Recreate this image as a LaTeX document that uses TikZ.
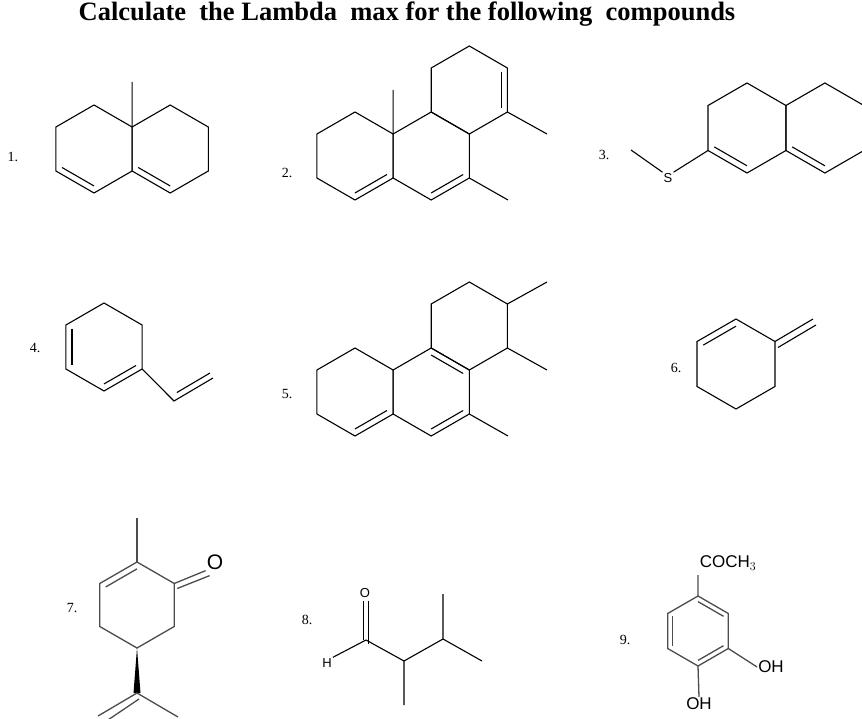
\documentclass[tikz,border=0pt]{standalone}
\usepackage{fontspec}
\setmainfont{Liberation Serif}
\newfontfamily\arialf{Liberation Sans}
\usetikzlibrary{calc}
\newcommand\hexa[4]{%
\coordinate (#1) at (#2,#3);
\coordinate (#1-t) at (#2,#3-#4);
\coordinate (#1-b) at (#2,#3+#4);
\coordinate (#1-ur) at (#2+0.866*#4,#3-0.5*#4);
\coordinate (#1-lr) at (#2+0.866*#4,#3+0.5*#4);
\coordinate (#1-ul) at (#2-0.866*#4,#3-0.5*#4);
\coordinate (#1-ll) at (#2-0.866*#4,#3+0.5*#4);}
\newcommand\ringdraw[2][]{\draw[bond,#1] (#2-t)--(#2-ur)--(#2-lr)--(#2-b)--(#2-ll)--(#2-ul)--cycle;}
\newcommand\dbl[4][]{\draw[bond,#1] ($(#2)!0.16!(#4)$) -- ($(#3)!0.16!(#4)$);}
\begin{document}
\begin{tikzpicture}[x=1pt,y=-1pt,
  bond/.style={line width=1.1pt,line join=miter},
  gbond/.style={line width=1.3pt,draw=black!70},
  num/.style={font=\fontsize{14}{14}\selectfont,inner sep=0pt},
  atom/.style={font=\arialf\fontsize{13}{13}\selectfont,inner sep=1pt}]
\fill[white] (0,0) rectangle (862,719);
\useasboundingbox (0,0) rectangle (862,719);
\clip (0,0) rectangle (862,719);
\node[font=\bfseries\fontsize{26.5}{26.5}\selectfont,inner sep=0pt] (title) at (407,14) {Calculate\ \ the Lambda\ \ max for the following\ \ compounds};
% labels
\node[num] (l1) at (13,157) {1.};
\node[num] (l2) at (287,173) {2.};
\node[num] (l3) at (604,155) {3.};
\node[num] (l4) at (35,348) {4.};
\node[num] (l5) at (287,394) {5.};
\node[num] (l6) at (676,368) {6.};
\node[num] (l7) at (72,608) {7.};
\node[num] (l8) at (307,620) {8.};
\node[num] (l9) at (625,640) {9.};
% 1
\hexa{a}{94}{149}{44}\hexa{b}{170.2}{149}{44}
\ringdraw{a}\ringdraw{b}
\coordinate (m1) at (132.1,82);
\draw[bond] (a-ur)--(m1);
\dbl{a-ll}{a-b}{a}\dbl{b-ll}{b-b}{b}
% 2
\hexa{c}{355}{156}{44}\hexa{d}{431.2}{156}{44}\hexa{e}{469.3}{90}{44}
\ringdraw{c}\ringdraw{d}\ringdraw{e}
\coordinate (m2a) at (393.1,90);\coordinate (m2b) at (547,134);\coordinate (m2c) at (508,200);
\draw[bond] (c-ur)--(m2a) (e-lr)--(m2b) (d-lr)--(m2c);
\dbl{e-ur}{e-lr}{e}\dbl{d-b}{d-lr}{d}\dbl{c-b}{c-lr}{c}
% 3
\hexa{f}{747}{128}{45}\hexa{g}{824.9}{128}{45}
\ringdraw{f}\ringdraw{g}
\node[atom] (S) at (668,178) {S};
\coordinate (m3) at (631,150);
\draw[bond] (f-ll)--(S.north east) (S.north west)--(m3);
\dbl{f-ll}{f-b}{f}\dbl{g-ll}{g-b}{g}
% 4
\hexa{h}{104}{347}{44}
\ringdraw{h}
\coordinate (v1) at (174,401);\coordinate (v2) at (213,378);
\draw[bond] (h-lr)--(v1)--(v2);
\draw[bond] ($(v1)!0.15!(v2)+(-3,-5)$)--($(v2)+(-3,-5)$);
\dbl{h-ul}{h-ll}{h}\dbl{h-b}{h-lr}{h}
% 5
\hexa{i}{355}{392}{44}\hexa{j}{431.2}{392}{44}\hexa{k}{469.3}{326}{44}
\ringdraw{i}\ringdraw{j}\ringdraw{k}
\coordinate (m5a) at (547,282);\coordinate (m5b) at (547,370);\coordinate (m5c) at (508,436);
\draw[bond] (k-ur)--(m5a) (k-lr)--(m5b) (j-lr)--(m5c);
\dbl{i-b}{i-lr}{i}\dbl{j-b}{j-lr}{j}\dbl{j-t}{j-ur}{j}
% 6
\hexa{l}{736}{364}{45}
\ringdraw{l}
\coordinate (x6) at (813,319);
\draw[bond] (l-ur)--(x6);
\draw[bond] ($(l-ur)+(3,6)$)--($(x6)+(3,6)$);
\dbl{l-ul}{l-t}{l}
% 7
\hexa{n}{137}{605}{43}
\ringdraw[gbond]{n}
\coordinate (m7) at (137,518);
\draw[gbond] (n-t)--(m7);
\node[atom,font=\arialf\fontsize{21}{21}\selectfont] (O7) at (215,562) {O};
\draw[gbond] (n-ur)--(O7.south west);
\draw[gbond] ($(n-ur)+(3,5)$)--($(O7.south west)+(4,5)$);
\dbl[gbond]{n-ul}{n-t}{n}
\coordinate (v7) at (137,693);
\fill[black] (n-b)--(133.5,693)--(140.5,693)--cycle;
\coordinate (m7b) at (178,717);\coordinate (m7c) at (98,716);
\draw[gbond] (v7)--(m7b) (v7)--(m7c);
\draw[gbond] ($(v7)+(2,6)$)--($(m7c)+(4,8)$);
% 8
\coordinate (c1) at (366,640);\coordinate (c2) at (404,661);\coordinate (c3) at (443,639);
\node[atom] (O8) at (365,593) {O};
\node[atom] (H8) at (327,663) {H};
\draw[bond] (H8.north east)--(c1)--(c2)--(c3)--(443,594) (c3)--(482,661) (c2)--(404,705);
\draw[bond] (363.5,640)--(363.5,601) (368.5,644)--(368.5,601);
% 9
\hexa{p}{698}{631}{35}
\ringdraw[gbond]{p}
\dbl[gbond]{p-ul}{p-ll}{p}\dbl[gbond]{p-t}{p-ur}{p}\dbl[gbond]{p-lr}{p-b}{p}
\node[atom,font=\arialf\fontsize{17}{17}\selectfont] (co) at (728,563) {COCH$_3$};
\node[atom,font=\arialf\fontsize{17}{17}\selectfont] (oh1) at (771,667) {OH};
\node[atom,font=\arialf\fontsize{17}{17}\selectfont] (oh2) at (699,704) {OH};
\draw[gbond] (p-t)--(698,575) (p-lr)--(oh1.west) (p-b)--(oh2.north);
\end{tikzpicture}
\end{document}
